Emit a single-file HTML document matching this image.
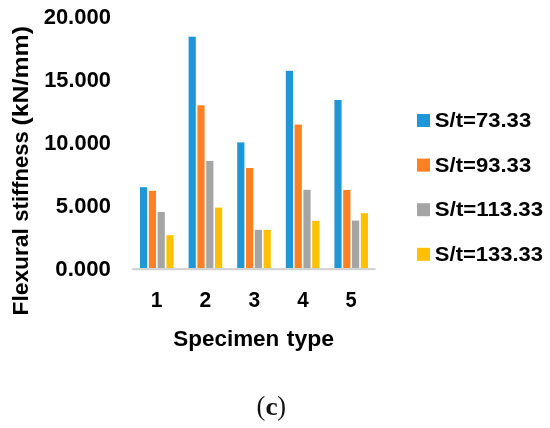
<!DOCTYPE html>
<html lang="en">
<head>
<meta charset="utf-8">
<title>Flexural stiffness chart (c)</title>
<style>
html,body{margin:0;padding:0;background:#fff;}
body{width:550px;height:428px;overflow:hidden;}
svg{display:block;}
.b{font-family:"Liberation Sans",sans-serif;font-weight:700;fill:#000;}
.s{font-family:"Liberation Serif",serif;fill:#111;}
</style>
</head>
<body>
<svg width="550" height="428" viewBox="0 0 550 428">
<rect x="0" y="0" width="550" height="428" fill="#ffffff"/>
<g id="bars">
<rect x="140.0" y="187.2" width="7.2" height="80.8" fill="#1f97d6"/>
<rect x="148.8" y="190.8" width="7.2" height="77.2" fill="#ff7f24"/>
<rect x="157.6" y="212.0" width="7.2" height="56.0" fill="#a5a5a5"/>
<rect x="166.4" y="235.2" width="7.2" height="32.8" fill="#ffc000"/>
<rect x="188.6" y="36.7" width="7.2" height="231.3" fill="#1f97d6"/>
<rect x="197.4" y="105.3" width="7.2" height="162.7" fill="#ff7f24"/>
<rect x="206.2" y="161.0" width="7.2" height="107.0" fill="#a5a5a5"/>
<rect x="215.0" y="207.6" width="7.2" height="60.4" fill="#ffc000"/>
<rect x="237.2" y="142.4" width="7.2" height="125.6" fill="#1f97d6"/>
<rect x="246.0" y="168.0" width="7.2" height="100.0" fill="#ff7f24"/>
<rect x="254.8" y="229.8" width="7.2" height="38.2" fill="#a5a5a5"/>
<rect x="263.6" y="229.8" width="7.2" height="38.2" fill="#ffc000"/>
<rect x="285.8" y="70.8" width="7.2" height="197.2" fill="#1f97d6"/>
<rect x="294.6" y="124.6" width="7.2" height="143.4" fill="#ff7f24"/>
<rect x="303.4" y="189.8" width="7.2" height="78.2" fill="#a5a5a5"/>
<rect x="312.2" y="220.8" width="7.2" height="47.2" fill="#ffc000"/>
<rect x="334.4" y="100.0" width="7.2" height="168.0" fill="#1f97d6"/>
<rect x="343.2" y="190.0" width="7.2" height="78.0" fill="#ff7f24"/>
<rect x="352.0" y="220.6" width="7.2" height="47.4" fill="#a5a5a5"/>
<rect x="360.8" y="213.2" width="7.2" height="54.8" fill="#ffc000"/>
</g>
<rect x="132.1" y="268.1" width="243.5" height="2.1" fill="#d0d0d0"/>
<g id="yticks">
<text x="43.65" y="24.15" class="b" font-size="22" textLength="67.30" lengthAdjust="spacingAndGlyphs">20.000</text>
<text x="44.15" y="87.20" class="b" font-size="22" textLength="66.78" lengthAdjust="spacingAndGlyphs">15.000</text>
<text x="44.15" y="150.25" class="b" font-size="22" textLength="66.78" lengthAdjust="spacingAndGlyphs">10.000</text>
<text x="55.85" y="213.30" class="b" font-size="22" textLength="55.06" lengthAdjust="spacingAndGlyphs">5.000</text>
<text x="55.35" y="276.35" class="b" font-size="22" textLength="55.58" lengthAdjust="spacingAndGlyphs">0.000</text>
</g>
<g id="xticks">
<text x="150.72" y="307.00" class="b" font-size="22" textLength="11.72" lengthAdjust="spacingAndGlyphs">1</text>
<text x="199.62" y="307.00" class="b" font-size="22" textLength="11.67" lengthAdjust="spacingAndGlyphs">2</text>
<text x="248.38" y="307.00" class="b" font-size="22" textLength="11.70" lengthAdjust="spacingAndGlyphs">3</text>
<text x="297.25" y="307.00" class="b" font-size="22" textLength="11.47" lengthAdjust="spacingAndGlyphs">4</text>
<text x="345.48" y="307.00" class="b" font-size="22" textLength="11.14" lengthAdjust="spacingAndGlyphs">5</text>
</g>
<g id="xtitle">
<text class="b" font-size="22.5"><tspan x="173.25" y="346.00" textLength="106.04" lengthAdjust="spacingAndGlyphs">Specimen</tspan> <tspan x="286.87" y="346.00" textLength="47.29" lengthAdjust="spacingAndGlyphs">type</tspan></text>
</g>
<g id="ytitle">
<text transform="rotate(-90)" class="b" font-size="22.5"><tspan x="-315.50" y="28.00" textLength="87.33" lengthAdjust="spacingAndGlyphs">Flexural</tspan> <tspan x="-221.63" y="28.00" textLength="90.24" lengthAdjust="spacingAndGlyphs">stiffness</tspan> <tspan x="-125.50" y="28.00" textLength="99.53" lengthAdjust="spacingAndGlyphs">(kN/mm)</tspan></text>
</g>
<g id="legend">
<rect x="417" y="114.0" width="13" height="13" fill="#1f97d6"/>
<text x="434.88" y="127.00" class="b" font-size="21" textLength="96.28" lengthAdjust="spacingAndGlyphs">S/t=73.33</text>
<rect x="417" y="158.6" width="13" height="13" fill="#ff7f24"/>
<text x="434.88" y="171.60" class="b" font-size="21" textLength="96.28" lengthAdjust="spacingAndGlyphs">S/t=93.33</text>
<rect x="417" y="203.2" width="13" height="13" fill="#a5a5a5"/>
<text x="434.87" y="216.20" class="b" font-size="21" textLength="108.26" lengthAdjust="spacingAndGlyphs">S/t=113.33</text>
<rect x="417" y="247.8" width="13" height="13" fill="#ffc000"/>
<text x="434.87" y="260.80" class="b" font-size="21" textLength="108.17" lengthAdjust="spacingAndGlyphs">S/t=133.33</text>
</g>
<g id="caption">
<text class="s"><tspan x="256.38" y="415.00" font-size="27.2" textLength="8.80" lengthAdjust="spacingAndGlyphs">(</tspan><tspan x="265.43" y="414.60" font-size="25.5" font-weight="700" textLength="12.20" lengthAdjust="spacingAndGlyphs">c</tspan><tspan x="277.25" y="415.00" font-size="27.2" textLength="8.75" lengthAdjust="spacingAndGlyphs">)</tspan></text>
</g>
</svg>
</body>
</html>
